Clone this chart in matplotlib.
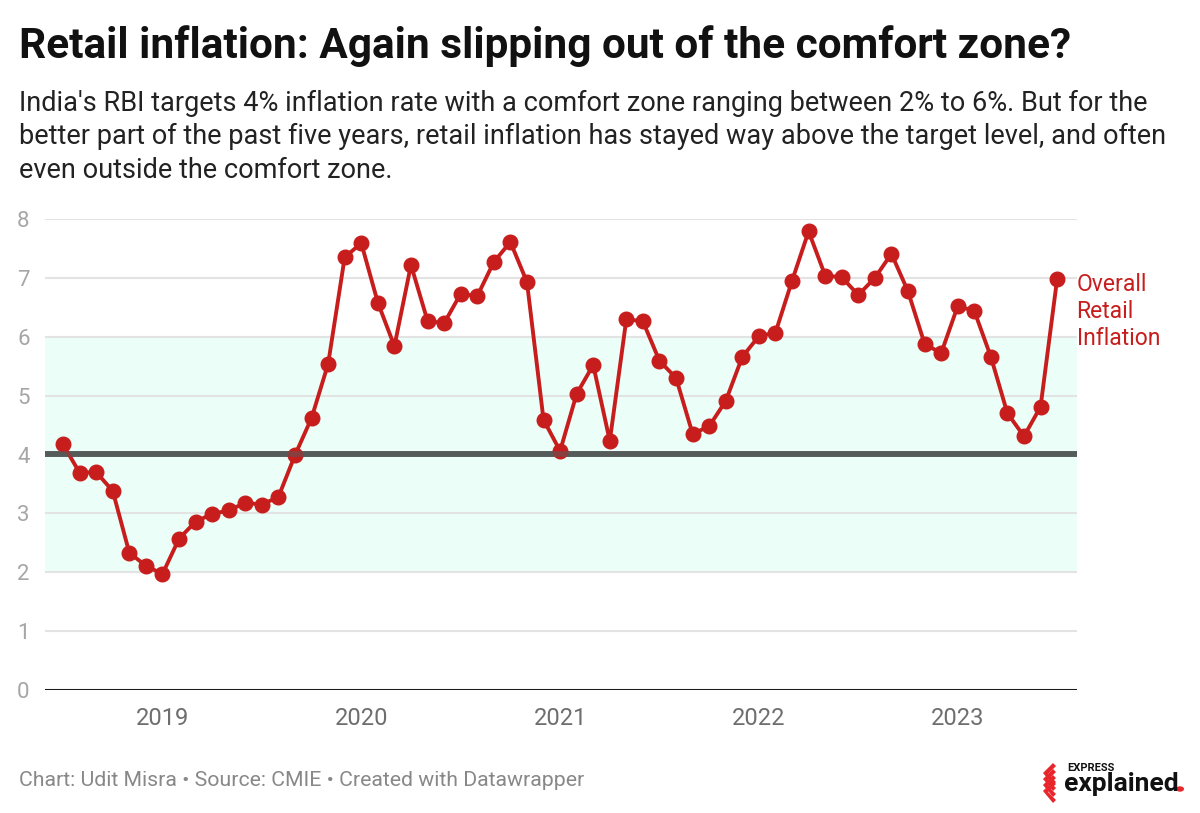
import matplotlib
matplotlib.use("Agg")
import matplotlib.pyplot as plt
from matplotlib.patches import Polygon
import numpy as np

# ---- data ----
start_label = "Jul 2018"
inflation = [4.17, 3.69, 3.70, 3.38, 2.33, 2.11,
             1.97, 2.57, 2.86, 2.99, 3.05, 3.18, 3.15, 3.28, 3.99, 4.62, 5.54, 7.35,
             7.59, 6.58, 5.84, 7.22, 6.27, 6.23, 6.73, 6.69, 7.27, 7.61, 6.93, 4.59,
             4.06, 5.03, 5.52, 4.23, 6.30, 6.26, 5.59, 5.30, 4.35, 4.48, 4.91, 5.66,
             6.01, 6.07, 6.95, 7.79, 7.04, 7.01, 6.71, 7.00, 7.41, 6.77, 5.88, 5.72,
             6.52, 6.44, 5.66, 4.70, 4.31, 4.81, 6.98]
year_ticks = [6, 18, 30, 42, 54]          # month index of January
year_labels = ["2019", "2020", "2021", "2022", "2023"]
y_ticks = [0, 1, 2, 3, 4, 5, 6, 7, 8]
target = 4
comfort_low, comfort_high = 2, 6
series_label = "Overall\nRetail\nInflation"

title = "Retail inflation: Again slipping out of the comfort zone?"
subtitle = ("India's RBI targets 4% inflation rate with a comfort zone ranging between 2% to 6%. But for the\n"
            "better part of the past five years, retail inflation has stayed way above the target level, and often\n"
            "even outside the comfort zone.")
footer = "Chart: Udit Misra \u2022 Source: CMIE \u2022 Created with Datawrapper"

RED = "#c71e1d"
plt.rcParams['font.family'] = ['Roboto', 'DejaVu Sans']

W, H = 1200, 813
fig = plt.figure(figsize=(W / 100, H / 100), dpi=100)
fig.patch.set_facecolor("white")

ax = fig.add_axes([45 / W, (H - 690) / H, 1032 / W, 471 / H])
x = np.arange(len(inflation))
ax.set_xlim(-1.09, 61.2)
ax.set_ylim(0, 8)

ax.axhspan(comfort_low, comfort_high, color="#ebfff8", zorder=0, lw=0)
for t in y_ticks[1:]:
    ax.axhline(t, color="#e3e3e3", lw=1.5, zorder=1)
ax.axhline(0, color="#1a1a1a", lw=2.2, zorder=2)
ax.axhline(target, color="#555b58", lw=4.2, zorder=2)

ax.plot(x, inflation, color=RED, lw=2.8, marker="o", ms=10.5, mec=RED, mfc=RED,
        zorder=3, clip_on=False, solid_joinstyle="round")
ax.axhline(target, color="#555b58", lw=4.2, zorder=4, alpha=0.55)

for s in ax.spines.values():
    s.set_visible(False)
ax.set_yticks(y_ticks)
ax.set_yticklabels([str(t) for t in y_ticks])
ax.set_xticks(year_ticks)
ax.set_xticklabels(year_labels)
ax.tick_params(axis="y", length=0, pad=11, labelsize=16, labelcolor="#a6a6a6")
ax.tick_params(axis="x", length=0, pad=12, labelsize=17, labelcolor="#6e6e6e")

ax.annotate(series_label, xy=(x[-1], inflation[-1]), xytext=(14, 4), textcoords="offset points",
            color=RED, fontsize=16.5, va="top", ha="left", linespacing=1.2, annotation_clip=False)

# ---- texts ----
fig.text(19 / W, 1 - 46 / H, title, fontsize=30.5, fontweight="bold", color="#111111", va="center", ha="left")
fig.text(19 / W, 1 - 90 / H, subtitle, fontsize=19.5, color="#222222", va="top", ha="left", linespacing=1.3)
fig.text(19 / W, 1 - 780 / H, footer, fontsize=15.3, color="#888888", va="center", ha="left")

# ---- logo ----
for i in range(4):
    cy = 763 + i * 6
    poly = Polygon([(1043 / W, 1 - (cy + 10) / H), (1053 / W, 1 - cy / H), (1056 / W, 1 - (cy + 3) / H),
                    (1048 / W, 1 - (cy + 11) / H), (1056 / W, 1 - (cy + 19) / H), (1053 / W, 1 - (cy + 22) / H)],
                   closed=True, transform=fig.transFigure, color="#e8262b", lw=0)
    fig.patches.append(poly)
fig.text(1067 / W, 1 - 768 / H, "EXPRESS", fontsize=8, fontweight="bold", color="#111111", va="center", ha="left")
fig.text(1064 / W, 1 - 784 / H, "explained", fontsize=19, fontweight="bold", color="#111111", va="center", ha="left")
fig.patches.append(matplotlib.patches.Circle((1180 / W, 1 - 789 / H), 4 / W, transform=fig.transFigure,
                                             color="#e8262b", lw=0))

fig.savefig("out.png", dpi=100, facecolor="white")
